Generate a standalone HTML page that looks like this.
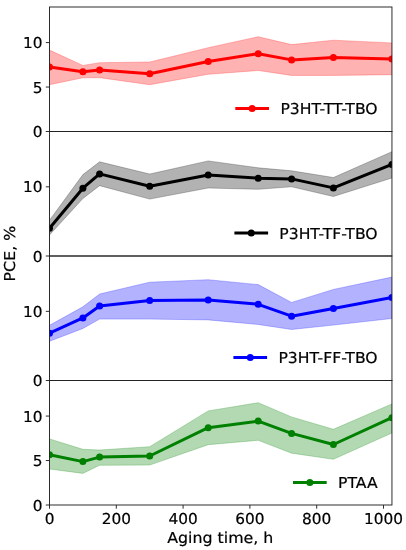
<!DOCTYPE html>
<html lang="en"><head><meta charset="utf-8"><title>PCE vs aging time</title>
<style>html,body{margin:0;padding:0;background:#fff;}body{width:406px;height:550px;overflow:hidden;}svg{display:block;}text{text-rendering:geometricPrecision;stroke:#000;stroke-width:0.2px;font-family:"DejaVu Sans","Liberation Sans",sans-serif;font-size:15.0px;fill:#000;}</style>
</head><body>
<svg width="406" height="550" viewBox="0 0 406 550">
<rect width="406" height="550" fill="#fff"/>
<defs>
<clipPath id="cp0"><rect x="49.50" y="7.00" width="342.45" height="124.50"/></clipPath>
<clipPath id="cp1"><rect x="49.50" y="131.50" width="342.45" height="124.50"/></clipPath>
<clipPath id="cp2"><rect x="49.50" y="256.00" width="342.45" height="124.50"/></clipPath>
<clipPath id="cp3"><rect x="49.50" y="380.50" width="342.45" height="124.50"/></clipPath>
</defs>
<g clip-path="url(#cp0)">
<polygon points="49.5,50.1 82.9,65.4 99.6,62.7 149.7,62.0 208.2,47.7 258.2,36.7 291.6,44.6 333.4,40.2 391.9,42.9 391.9,74.7 333.4,75.4 291.6,75.4 258.2,70.5 208.2,74.3 149.7,84.7 99.6,77.7 82.9,77.8 49.5,84.7" fill="#ff0000" fill-opacity="0.3" stroke="#ff0000" stroke-opacity="0.3" stroke-width="0.8" stroke-linejoin="miter"/>
<polyline points="49.5,67.1 82.9,71.8 99.6,70.0 149.7,73.8 208.2,61.5 258.2,53.7 291.6,59.9 333.4,57.4 391.9,58.9" fill="none" stroke="#ff0000" stroke-width="3.0" stroke-linejoin="round" stroke-linecap="butt"/>
<circle cx="49.5" cy="67.1" r="3.5" fill="#ff0000"/>
<circle cx="82.9" cy="71.8" r="3.5" fill="#ff0000"/>
<circle cx="99.6" cy="70.0" r="3.5" fill="#ff0000"/>
<circle cx="149.7" cy="73.8" r="3.5" fill="#ff0000"/>
<circle cx="208.2" cy="61.5" r="3.5" fill="#ff0000"/>
<circle cx="258.2" cy="53.7" r="3.5" fill="#ff0000"/>
<circle cx="291.6" cy="59.9" r="3.5" fill="#ff0000"/>
<circle cx="333.4" cy="57.4" r="3.5" fill="#ff0000"/>
<circle cx="391.9" cy="58.9" r="3.5" fill="#ff0000"/>
</g>
<g clip-path="url(#cp1)">
<polygon points="49.5,220.2 82.9,174.6 99.6,161.8 149.7,174.0 208.2,160.9 258.2,167.8 291.6,170.8 333.4,177.5 391.9,151.7 391.9,178.0 333.4,196.5 291.6,186.8 258.2,189.3 208.2,188.0 149.7,199.1 99.6,185.7 82.9,198.5 49.5,235.0" fill="#000000" fill-opacity="0.3" stroke="#000000" stroke-opacity="0.3" stroke-width="0.8" stroke-linejoin="miter"/>
<polyline points="49.5,228.3 82.9,188.2 99.6,173.9 149.7,186.3 208.2,175.0 258.2,178.2 291.6,178.9 333.4,187.9 391.9,164.5" fill="none" stroke="#000000" stroke-width="3.0" stroke-linejoin="round" stroke-linecap="butt"/>
<circle cx="49.5" cy="228.3" r="3.5" fill="#000000"/>
<circle cx="82.9" cy="188.2" r="3.5" fill="#000000"/>
<circle cx="99.6" cy="173.9" r="3.5" fill="#000000"/>
<circle cx="149.7" cy="186.3" r="3.5" fill="#000000"/>
<circle cx="208.2" cy="175.0" r="3.5" fill="#000000"/>
<circle cx="258.2" cy="178.2" r="3.5" fill="#000000"/>
<circle cx="291.6" cy="178.9" r="3.5" fill="#000000"/>
<circle cx="333.4" cy="187.9" r="3.5" fill="#000000"/>
<circle cx="391.9" cy="164.5" r="3.5" fill="#000000"/>
</g>
<g clip-path="url(#cp2)">
<polygon points="49.5,325.3 82.9,306.8 99.6,294.0 149.7,282.2 208.2,279.7 258.2,284.6 291.6,302.4 333.4,289.4 391.9,277.1 391.9,318.5 333.4,325.1 291.6,329.5 258.2,324.5 208.2,319.9 149.7,319.1 99.6,319.1 82.9,328.5 49.5,341.3" fill="#0000ff" fill-opacity="0.3" stroke="#0000ff" stroke-opacity="0.3" stroke-width="0.8" stroke-linejoin="miter"/>
<polyline points="49.5,333.2 82.9,317.9 99.6,306.1 149.7,300.6 208.2,299.9 258.2,304.3 291.6,316.2 333.4,308.6 391.9,297.5" fill="none" stroke="#0000ff" stroke-width="3.0" stroke-linejoin="round" stroke-linecap="butt"/>
<circle cx="49.5" cy="333.2" r="3.5" fill="#0000ff"/>
<circle cx="82.9" cy="317.9" r="3.5" fill="#0000ff"/>
<circle cx="99.6" cy="306.1" r="3.5" fill="#0000ff"/>
<circle cx="149.7" cy="300.6" r="3.5" fill="#0000ff"/>
<circle cx="208.2" cy="299.9" r="3.5" fill="#0000ff"/>
<circle cx="258.2" cy="304.3" r="3.5" fill="#0000ff"/>
<circle cx="291.6" cy="316.2" r="3.5" fill="#0000ff"/>
<circle cx="333.4" cy="308.6" r="3.5" fill="#0000ff"/>
<circle cx="391.9" cy="297.5" r="3.5" fill="#0000ff"/>
</g>
<g clip-path="url(#cp3)">
<polygon points="49.5,438.9 82.9,449.3 99.6,450.0 149.7,446.7 208.2,410.9 258.2,402.7 291.6,416.9 333.4,429.3 391.9,403.9 391.9,433.0 333.4,459.3 291.6,453.2 258.2,440.3 208.2,444.7 149.7,465.1 99.6,465.3 82.9,473.4 49.5,469.0" fill="#008000" fill-opacity="0.3" stroke="#008000" stroke-opacity="0.3" stroke-width="0.8" stroke-linejoin="miter"/>
<polyline points="49.5,454.7 82.9,461.6 99.6,457.1 149.7,456.0 208.2,427.7 258.2,421.1 291.6,433.4 333.4,444.5 391.9,417.7" fill="none" stroke="#008000" stroke-width="3.0" stroke-linejoin="round" stroke-linecap="butt"/>
<circle cx="49.5" cy="454.7" r="3.5" fill="#008000"/>
<circle cx="82.9" cy="461.6" r="3.5" fill="#008000"/>
<circle cx="99.6" cy="457.1" r="3.5" fill="#008000"/>
<circle cx="149.7" cy="456.0" r="3.5" fill="#008000"/>
<circle cx="208.2" cy="427.7" r="3.5" fill="#008000"/>
<circle cx="258.2" cy="421.1" r="3.5" fill="#008000"/>
<circle cx="291.6" cy="433.4" r="3.5" fill="#008000"/>
<circle cx="333.4" cy="444.5" r="3.5" fill="#008000"/>
<circle cx="391.9" cy="417.7" r="3.5" fill="#008000"/>
</g>
<rect x="49.50" y="7.00" width="342.45" height="124.50" fill="none" stroke="#222" stroke-width="0.95"/>
<rect x="49.50" y="131.50" width="342.45" height="124.50" fill="none" stroke="#222" stroke-width="0.95"/>
<rect x="49.50" y="256.00" width="342.45" height="124.50" fill="none" stroke="#222" stroke-width="0.95"/>
<rect x="49.50" y="380.50" width="342.45" height="124.50" fill="none" stroke="#222" stroke-width="0.95"/>
<line x1="45.80" y1="131.50" x2="49.50" y2="131.50" stroke="#222" stroke-width="0.95"/>
<text transform="translate(42.40,137.00) scale(1.022,1)" text-anchor="end">0</text>
<line x1="45.80" y1="87.04" x2="49.50" y2="87.04" stroke="#222" stroke-width="0.95"/>
<text transform="translate(42.40,92.54) scale(1.022,1)" text-anchor="end">5</text>
<line x1="45.80" y1="42.57" x2="49.50" y2="42.57" stroke="#222" stroke-width="0.95"/>
<text transform="translate(42.40,48.07) scale(1.022,1)" text-anchor="end">10</text>
<line x1="45.80" y1="256.00" x2="49.50" y2="256.00" stroke="#222" stroke-width="0.95"/>
<text transform="translate(42.40,261.50) scale(1.022,1)" text-anchor="end">0</text>
<line x1="45.80" y1="186.83" x2="49.50" y2="186.83" stroke="#222" stroke-width="0.95"/>
<text transform="translate(42.40,192.33) scale(1.022,1)" text-anchor="end">10</text>
<line x1="45.80" y1="380.50" x2="49.50" y2="380.50" stroke="#222" stroke-width="0.95"/>
<text transform="translate(42.40,386.00) scale(1.022,1)" text-anchor="end">0</text>
<line x1="45.80" y1="311.33" x2="49.50" y2="311.33" stroke="#222" stroke-width="0.95"/>
<text transform="translate(42.40,316.83) scale(1.022,1)" text-anchor="end">10</text>
<line x1="45.80" y1="505.00" x2="49.50" y2="505.00" stroke="#222" stroke-width="0.95"/>
<text transform="translate(42.40,510.50) scale(1.022,1)" text-anchor="end">0</text>
<line x1="45.80" y1="460.54" x2="49.50" y2="460.54" stroke="#222" stroke-width="0.95"/>
<text transform="translate(42.40,466.04) scale(1.022,1)" text-anchor="end">5</text>
<line x1="45.80" y1="416.07" x2="49.50" y2="416.07" stroke="#222" stroke-width="0.95"/>
<text transform="translate(42.40,421.57) scale(1.022,1)" text-anchor="end">10</text>
<line x1="49.50" y1="505.00" x2="49.50" y2="508.70" stroke="#222" stroke-width="0.95"/>
<text transform="translate(49.50,523.70) scale(1.022,1)" text-anchor="middle">0</text>
<line x1="116.30" y1="505.00" x2="116.30" y2="508.70" stroke="#222" stroke-width="0.95"/>
<text transform="translate(116.30,523.70) scale(1.022,1)" text-anchor="middle">200</text>
<line x1="183.10" y1="505.00" x2="183.10" y2="508.70" stroke="#222" stroke-width="0.95"/>
<text transform="translate(183.10,523.70) scale(1.022,1)" text-anchor="middle">400</text>
<line x1="249.90" y1="505.00" x2="249.90" y2="508.70" stroke="#222" stroke-width="0.95"/>
<text transform="translate(249.90,523.70) scale(1.022,1)" text-anchor="middle">600</text>
<line x1="316.70" y1="505.00" x2="316.70" y2="508.70" stroke="#222" stroke-width="0.95"/>
<text transform="translate(316.70,523.70) scale(1.022,1)" text-anchor="middle">800</text>
<line x1="383.50" y1="505.00" x2="383.50" y2="508.70" stroke="#222" stroke-width="0.95"/>
<text transform="translate(383.50,523.70) scale(1.022,1)" text-anchor="middle">1000</text>
<text transform="translate(220.3,542.5) scale(1.055,1)" text-anchor="middle">Aging time, h</text>
<text transform="translate(15.2,253.6) rotate(-90) scale(1.055,1)" text-anchor="middle">PCE, %</text>
<line x1="235.30" y1="108.40" x2="269.00" y2="108.40" stroke="#ff0000" stroke-width="3.0"/>
<circle cx="252.15" cy="108.40" r="3.5" fill="#ff0000"/>
<text transform="translate(377.60,114.10) scale(1.040,1)" text-anchor="end">P3HT-TT-TBO</text>
<line x1="234.40" y1="233.10" x2="268.10" y2="233.10" stroke="#000000" stroke-width="3.0"/>
<circle cx="251.25" cy="233.10" r="3.5" fill="#000000"/>
<text transform="translate(377.60,238.80) scale(1.040,1)" text-anchor="end">P3HT-TF-TBO</text>
<line x1="233.40" y1="357.40" x2="267.10" y2="357.40" stroke="#0000ff" stroke-width="3.0"/>
<circle cx="250.25" cy="357.40" r="3.5" fill="#0000ff"/>
<text transform="translate(377.60,363.10) scale(1.040,1)" text-anchor="end">P3HT-FF-TBO</text>
<line x1="293.00" y1="482.60" x2="326.70" y2="482.60" stroke="#008000" stroke-width="3.0"/>
<circle cx="309.85" cy="482.60" r="3.5" fill="#008000"/>
<text transform="translate(377.60,488.30) scale(1.040,1)" text-anchor="end">PTAA</text>
</svg>
</body></html>
